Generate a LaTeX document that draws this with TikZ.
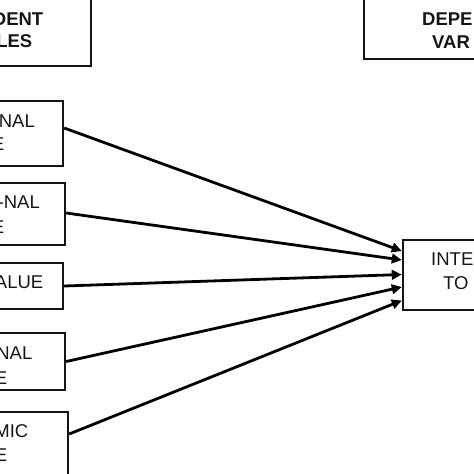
\documentclass[tikz,border=0pt]{standalone}
\usepackage{fontspec}
\setmainfont{Liberation Sans}
\usetikzlibrary{arrows.meta}
\definecolor{ink}{HTML}{151515}
\begin{document}
\begin{tikzpicture}[x=1pt,y=-1pt,
  box/.style={draw=ink,line width=2.4pt,inner sep=0pt,rectangle},
  lbl/.style={inner sep=0pt,text=ink,font=\fontsize{18.5}{21}\selectfont},
  blbl/.style={lbl,font=\fontsize{18.5}{21}\selectfont\bfseries},
  link/.style={draw=black,line width=2.8pt,-{Triangle[length=10pt,width=9.5pt]}}]
\useasboundingbox (0,0) rectangle (474,474);
\clip (0,0) rectangle (474,474);
% top-left header box
\node[box,minimum width=150pt,minimum height=70pt] (ih) at (16,31) {};
\node[blbl,anchor=base east] (ih1) at (43.5,25) {DENT};
\node[blbl,anchor=base east] (ih2) at (32.5,47) {LES};
% top-right header box
\node[box,minimum width=150pt,minimum height=62pt] (dh) at (439,28) {};
\node[blbl,anchor=base west] (dh1) at (422,25.5) {DEPE};
\node[blbl,anchor=base west] (dh2) at (432,48) {VAR};
% left boxes
\node[box,minimum width=123pt,minimum height=65pt] (b1) at (1.5,133.5) {};
\node[lbl,anchor=base east] (b1a) at (35,127) {NAL};
\node[lbl,anchor=base east] (b1b) at (4.5,150.5) {E};
\node[box,minimum width=125pt,minimum height=62pt] (b2) at (2.5,214) {};
\node[lbl,anchor=base east] (b2a) at (40,208) {-NAL};
\node[lbl,anchor=base east] (b2b) at (4.5,233) {E};
\node[box,minimum width=123pt,minimum height=46pt] (b3) at (1.5,286) {};
\node[lbl,anchor=base east] (b3a) at (43.5,288) {ALUE};
\node[box,minimum width=125pt,minimum height=57pt] (b4) at (2.5,361.5) {};
\node[lbl,anchor=base east] (b4a) at (32.5,359) {NAL};
\node[lbl,anchor=base east] (b4b) at (7.5,384) {E};
\node[box,minimum width=128pt,minimum height=64pt] (b5) at (4,444) {};
\node[lbl,anchor=base east] (b5a) at (28.5,437) {MIC};
\node[lbl,anchor=base east] (b5b) at (7.5,461) {E};
% right target box
\node[box,minimum width=150pt,minimum height=70pt] (r) at (478,275) {};
\node[lbl,anchor=base west] (r1) at (431,265) {INTE};
\node[lbl,anchor=base west] (r2) at (443,289) {TO};
% connectors
\draw[link] ([yshift=5.5pt]b1.east) -- ([yshift=24pt]r.west);
\draw[link] ([yshift=1pt]b2.east) -- ([yshift=15pt]r.west);
\draw[link] (b3.east) -- ([yshift=0.5pt]r.west);
\draw[link] (b4.east) -- ([yshift=-12pt]r.west);
\draw[link] ([yshift=10pt]b5.east) -- ([yshift=-25.5pt]r.west);
\end{tikzpicture}
\end{document}
